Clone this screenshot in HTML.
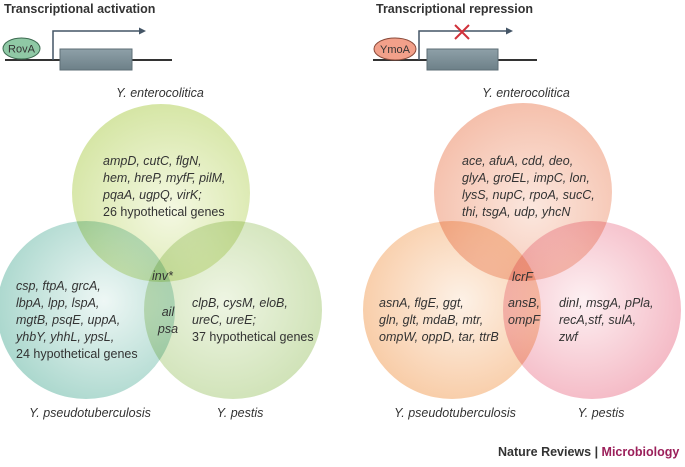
<!DOCTYPE html>
<html><head><meta charset="utf-8"><style>
body{margin:0;background:#fff}
svg text{font-family:"Liberation Sans",sans-serif;fill:#333}
.i{font-style:italic;font-size:12.5px}
.m{mix-blend-mode:multiply}
</style></head><body>
<svg width="685" height="462" viewBox="0 0 685 462" xmlns="http://www.w3.org/2000/svg">
<defs>
<radialGradient id="gy" cx="0.55" cy="0.6" r="0.6"><stop offset="0" stop-color="#f4f8e2"/><stop offset="1" stop-color="#d6e6a6"/></radialGradient>
<radialGradient id="gt" cx="0.6" cy="0.45" r="0.6"><stop offset="0" stop-color="#eef7f5"/><stop offset="1" stop-color="#acd8ce"/></radialGradient>
<radialGradient id="gg" cx="0.45" cy="0.45" r="0.6"><stop offset="0" stop-color="#eef5e3"/><stop offset="1" stop-color="#cfe2b6"/></radialGradient>
<radialGradient id="ro" cx="0.55" cy="0.6" r="0.6"><stop offset="0" stop-color="#fbe7de"/><stop offset="1" stop-color="#f5c0ac"/></radialGradient>
<radialGradient id="rp" cx="0.55" cy="0.45" r="0.6"><stop offset="0" stop-color="#fdf1e6"/><stop offset="1" stop-color="#f8cba5"/></radialGradient>
<radialGradient id="rk" cx="0.45" cy="0.45" r="0.6"><stop offset="0" stop-color="#fdf0f2"/><stop offset="1" stop-color="#f4b8c4"/></radialGradient>
<linearGradient id="bx" x1="0" y1="0" x2="0" y2="1"><stop offset="0" stop-color="#8ea0a8"/><stop offset="1" stop-color="#6d8088"/></linearGradient>
</defs>
<text x="4" y="13" font-size="12.5" font-weight="bold" fill="#222">Transcriptional activation</text>
<text x="376" y="13" font-size="12.5" font-weight="bold" fill="#222">Transcriptional repression</text>
<!-- gene left -->
<line x1="5" y1="60" x2="172" y2="60" stroke="#333" stroke-width="2"/>
<path d="M53 60 V31 H142" fill="none" stroke="#445566" stroke-width="1.5"/>
<polygon points="146,31 139,27.5 139,34.5" fill="#445566"/>
<rect x="60" y="49" width="72" height="21" fill="url(#bx)" stroke="#5d6e76"/>
<ellipse cx="21.5" cy="48.5" rx="18.5" ry="10.5" fill="#8fc9a5" stroke="#3c6a50"/>
<text x="21.5" y="52.5" font-size="11" text-anchor="middle">RovA</text>
<!-- gene right -->
<line x1="373" y1="60" x2="537" y2="60" stroke="#333" stroke-width="2"/>
<path d="M419 60 V31 H509" fill="none" stroke="#445566" stroke-width="1.5"/>
<polygon points="513,31 506,27.5 506,34.5" fill="#445566"/>
<path d="M455 25 L469 39 M469 25 L455 39" stroke="#d0313a" stroke-width="2"/>
<rect x="427" y="49" width="71" height="21" fill="url(#bx)" stroke="#5d6e76"/>
<ellipse cx="395" cy="49" rx="21" ry="11" fill="#f2a08a" stroke="#8a4a3a"/>
<text x="395" y="53" font-size="11" text-anchor="middle">YmoA</text>
<!-- left venn -->
<circle class="m" cx="161" cy="193" r="89" fill="url(#gy)"/>
<circle class="m" cx="86" cy="310" r="89" fill="url(#gt)"/>
<circle class="m" cx="233" cy="310" r="89" fill="url(#gg)"/>
<!-- right venn -->
<circle class="m" cx="523" cy="192" r="89" fill="url(#ro)"/>
<circle class="m" cx="452" cy="310" r="89" fill="url(#rp)"/>
<circle class="m" cx="592" cy="310" r="89" fill="url(#rk)"/>
<text x="160" y="97" class="i" text-anchor="middle">Y. enterocolitica</text>
<text x="90" y="417" class="i" text-anchor="middle">Y. pseudotuberculosis</text>
<text x="240" y="417" class="i" text-anchor="middle">Y. pestis</text>
<text x="526" y="97" class="i" text-anchor="middle">Y. enterocolitica</text>
<text x="455" y="417" class="i" text-anchor="middle">Y. pseudotuberculosis</text>
<text x="601" y="417" class="i" text-anchor="middle">Y. pestis</text>
<g class="i">
<text x="103" y="165">ampD, cutC, flgN,</text>
<text x="103" y="182">hem, hreP, myfF, pilM,</text>
<text x="103" y="199">pqaA, ugpQ, virK;</text>
<text x="103" y="216" font-style="normal">26 hypothetical genes</text>
<text x="152" y="280">inv*</text>
<text x="16" y="290">csp, ftpA, grcA,</text>
<text x="16" y="307">lbpA, lpp, lspA,</text>
<text x="16" y="324">mgtB, psqE, uppA,</text>
<text x="16" y="341">yhbY, yhhL, ypsL,</text>
<text x="16" y="358" font-style="normal">24 hypothetical genes</text>
<text x="168" y="316" text-anchor="middle">ail</text>
<text x="168" y="333" text-anchor="middle">psa</text>
<text x="192" y="307">clpB, cysM, eloB,</text>
<text x="192" y="324">ureC, ureE;</text>
<text x="192" y="341" font-style="normal">37 hypothetical genes</text>
<text x="462" y="165">ace, afuA, cdd, deo,</text>
<text x="462" y="182">glyA, groEL, impC, lon,</text>
<text x="462" y="199">lysS, nupC, rpoA, sucC,</text>
<text x="462" y="216">thi, tsgA, udp, yhcN</text>
<text x="512" y="281">lcrF</text>
<text x="379" y="307">asnA, flgE, ggt,</text>
<text x="379" y="324">gln, glt, mdaB, mtr,</text>
<text x="379" y="341">ompW, oppD, tar, ttrB</text>
<text x="508" y="307">ansB,</text>
<text x="508" y="324">ompF</text>
<text x="559" y="307">dinI, msgA, pPla,</text>
<text x="559" y="324">recA,stf, sulA,</text>
<text x="559" y="341">zwf</text>
</g>
<text x="498" y="456" font-size="12.5" font-weight="bold" fill="#222">Nature Reviews | <tspan fill="#9b1f5a">Microbiology</tspan></text>
</svg>
</body></html>
